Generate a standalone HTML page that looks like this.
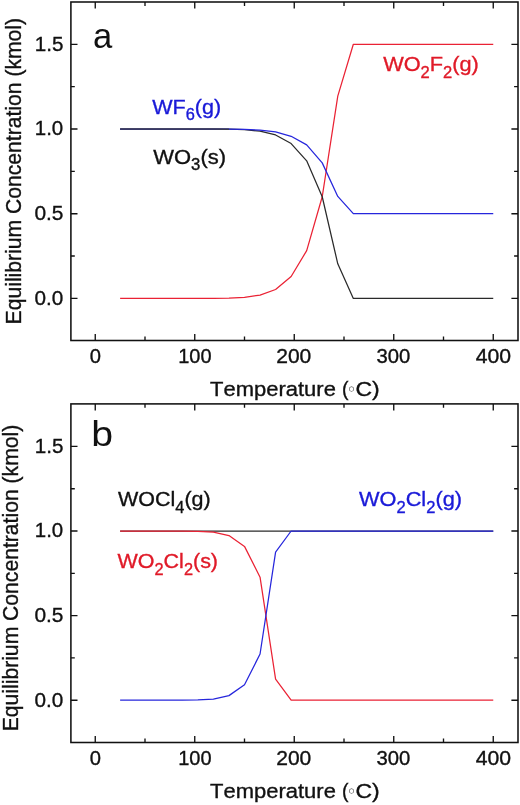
<!DOCTYPE html>
<html lang="en"><head><meta charset="utf-8"><title>Equilibrium Concentration vs Temperature</title>
<style>
html,body{margin:0;padding:0;background:#fff}
body{width:520px;height:805px;overflow:hidden}
svg{display:block}
text{font-family:"Liberation Sans",sans-serif;font-kerning:none}
</style></head><body>
<svg width="520" height="805" viewBox="0 0 520 805">
<rect width="520" height="805" fill="#fff"/>
<rect x="70.90" y="2.00" width="447.10" height="338.50" fill="none" stroke="#111" stroke-width="1.55"/>
<path d="M95.25 340.50v-6.60M95.25 2.00v6.60M145.00 340.50v-3.90M145.00 2.00v3.90M194.75 340.50v-6.60M194.75 2.00v6.60M244.50 340.50v-3.90M244.50 2.00v3.90M294.25 340.50v-6.60M294.25 2.00v6.60M344.00 340.50v-3.90M344.00 2.00v3.90M393.75 340.50v-6.60M393.75 2.00v6.60M443.50 340.50v-3.90M443.50 2.00v3.90M493.25 340.50v-6.60M493.25 2.00v6.60M70.90 298.40h6.60M518.00 298.40h-6.60M70.90 256.05h3.90M518.00 256.05h-3.90M70.90 213.70h6.60M518.00 213.70h-6.60M70.90 171.35h3.90M518.00 171.35h-3.90M70.90 129.00h6.60M518.00 129.00h-6.60M70.90 86.65h3.90M518.00 86.65h-3.90M70.90 44.30h6.60M518.00 44.30h-6.60" stroke="#111" stroke-width="1.35" fill="none"/>
<rect x="70.90" y="403.90" width="447.10" height="338.60" fill="none" stroke="#111" stroke-width="1.55"/>
<path d="M95.25 742.50v-6.60M95.25 403.90v6.60M145.00 742.50v-3.90M145.00 403.90v3.90M194.75 742.50v-6.60M194.75 403.90v6.60M244.50 742.50v-3.90M244.50 403.90v3.90M294.25 742.50v-6.60M294.25 403.90v6.60M344.00 742.50v-3.90M344.00 403.90v3.90M393.75 742.50v-6.60M393.75 403.90v6.60M443.50 742.50v-3.90M443.50 403.90v3.90M493.25 742.50v-6.60M493.25 403.90v6.60M70.90 700.20h6.60M518.00 700.20h-6.60M70.90 657.90h3.90M518.00 657.90h-3.90M70.90 615.60h6.60M518.00 615.60h-6.60M70.90 573.30h3.90M518.00 573.30h-3.90M70.90 531.00h6.60M518.00 531.00h-6.60M70.90 488.70h3.90M518.00 488.70h-3.90M70.90 446.40h6.60M518.00 446.40h-6.60" stroke="#111" stroke-width="1.35" fill="none"/>
<polyline points="120.12,298.40 135.67,298.40 151.22,298.40 166.77,298.40 182.31,298.40 197.86,298.40 213.41,298.40 228.95,298.15 244.50,297.38 260.05,295.10 275.59,289.51 291.14,276.55 306.69,250.63 322.23,196.76 337.78,96.14 353.33,44.30 368.88,44.30 384.42,44.30 399.97,44.30 415.52,44.30 431.06,44.30 446.61,44.30 462.16,44.30 477.70,44.30 493.25,44.30" fill="none" stroke="#ea2234" stroke-width="1.25" stroke-linejoin="round"/>
<polyline points="120.12,129.00 135.67,129.00 151.22,129.00 166.77,129.00 182.31,129.00 197.86,129.00 213.41,129.00 228.95,129.17 244.50,129.68 260.05,131.20 275.59,134.93 291.14,143.57 306.69,160.85 322.23,196.76 337.78,263.84 353.33,298.40 368.88,298.40 384.42,298.40 399.97,298.40 415.52,298.40 431.06,298.40 446.61,298.40 462.16,298.40 477.70,298.40 493.25,298.40" fill="none" stroke="#2a2a2a" stroke-width="1.25" stroke-linejoin="round"/>
<polyline points="120.12,129.00 135.67,129.00 151.22,129.00 166.77,129.00 182.31,129.00 197.86,129.00 213.41,129.00 228.95,129.08 244.50,129.34 260.05,130.10 275.59,131.96 291.14,136.28 306.69,144.92 322.23,162.88 337.78,196.42 353.33,213.70 368.88,213.70 384.42,213.70 399.97,213.70 415.52,213.70 431.06,213.70 446.61,213.70 462.16,213.70 477.70,213.70 493.25,213.70" fill="none" stroke="#2626dc" stroke-width="1.25" stroke-linejoin="round"/>
<polyline points="120.12,129.00 135.67,129.00 151.22,129.00 166.77,129.00 182.31,129.00 197.86,129.00 213.41,129.00 228.95,129.17" fill="none" stroke="#3c3c4c" stroke-width="1.5" stroke-linejoin="round"/>
<polyline points="120.12,531.00 135.67,531.00 151.22,531.00 166.77,531.00 182.31,531.00 197.86,531.00 213.41,531.00 228.95,531.00 244.50,531.00 260.05,531.00 275.59,531.00 291.14,531.00 306.69,531.00 322.23,531.00 337.78,531.00 353.33,531.00 368.88,531.00 384.42,531.00 399.97,531.00 415.52,531.00 431.06,531.00 446.61,531.00 462.16,531.00 477.70,531.00 493.25,531.00" fill="none" stroke="#2a2a2a" stroke-width="1.25" stroke-linejoin="round"/>
<polyline points="120.12,531.00 135.67,531.00 151.22,531.00 166.77,531.00 182.31,531.00 197.86,531.34 213.41,532.18 228.95,535.57 244.50,546.40 260.05,577.19 275.59,679.05 291.14,700.20 306.69,700.20 322.23,700.20 337.78,700.20 353.33,700.20 368.88,700.20 384.42,700.20 399.97,700.20 415.52,700.20 431.06,700.20 446.61,700.20 462.16,700.20 477.70,700.20 493.25,700.20" fill="none" stroke="#ea2234" stroke-width="1.25" stroke-linejoin="round"/>
<polyline points="120.12,700.20 135.67,700.20 151.22,700.20 166.77,700.20 182.31,700.20 197.86,699.86 213.41,699.02 228.95,695.63 244.50,684.80 260.05,654.01 275.59,552.15 291.14,531.00 306.69,531.00 322.23,531.00 337.78,531.00 353.33,531.00 368.88,531.00 384.42,531.00 399.97,531.00 415.52,531.00 431.06,531.00 446.61,531.00 462.16,531.00 477.70,531.00 493.25,531.00" fill="none" stroke="#2626dc" stroke-width="1.25" stroke-linejoin="round"/>
<text transform="translate(92.92,48.20) scale(0.9889,1)" font-size="35" fill="#111" stroke="#111" stroke-width="0">a</text>
<text transform="translate(91.34,446.10) scale(1.1143,1)" font-size="35.2" fill="#111" stroke="#111" stroke-width="0">b</text>
<text transform="translate(152.24,113.50) scale(1.0516,1)" font-size="20.5" fill="#1a1ad8" stroke="#1a1ad8" stroke-width="0.35">WF<tspan dy="6.8" font-size="15.6">6</tspan><tspan dy="-6.8">(g)</tspan></text>
<text transform="translate(153.23,163.50) scale(1.0732,1)" font-size="20.5" fill="#111" stroke="#111" stroke-width="0.35">WO<tspan dy="6.8" font-size="15.6">3</tspan><tspan dy="-6.8">(s)</tspan></text>
<text transform="translate(383.23,70.80) scale(1.0603,1)" font-size="20.5" fill="#e01a28" stroke="#e01a28" stroke-width="0.35">WO<tspan dy="6.8" font-size="15.6">2</tspan><tspan dy="-6.8">F</tspan><tspan dy="6.8" font-size="15.6">2</tspan><tspan dy="-6.8">(g)</tspan></text>
<text transform="translate(118.04,505.75) scale(1.0490,1)" font-size="20.5" fill="#111" stroke="#111" stroke-width="0.35">WOCl<tspan dy="6.8" font-size="15.6">4</tspan><tspan dy="-6.8">(g)</tspan></text>
<text transform="translate(359.03,505.75) scale(1.0607,1)" font-size="20.5" fill="#1a1ad8" stroke="#1a1ad8" stroke-width="0.35">WO<tspan dy="6.8" font-size="15.6">2</tspan><tspan dy="-6.8">Cl</tspan><tspan dy="6.8" font-size="15.6">2</tspan><tspan dy="-6.8">(g)</tspan></text>
<text transform="translate(117.54,568.00) scale(1.0476,1)" font-size="20.5" fill="#e01a28" stroke="#e01a28" stroke-width="0.35">WO<tspan dy="6.8" font-size="15.6">2</tspan><tspan dy="-6.8">Cl</tspan><tspan dy="6.8" font-size="15.6">2</tspan><tspan dy="-6.8">(s)</tspan></text>
<text transform="translate(89.85,363.30) scale(1.0051,1)" font-size="20.1" fill="#111" stroke="#111" stroke-width="0.35">0</text>
<text transform="translate(178.21,363.30) scale(0.9952,1)" font-size="20.1" fill="#111" stroke="#111" stroke-width="0.35">100</text>
<text transform="translate(276.25,363.30) scale(1.0457,1)" font-size="20.1" fill="#111" stroke="#111" stroke-width="0.35">200</text>
<text transform="translate(376.54,363.30) scale(1.0094,1)" font-size="20.1" fill="#111" stroke="#111" stroke-width="0.35">300</text>
<text transform="translate(475.67,363.30) scale(1.0543,1)" font-size="20.1" fill="#111" stroke="#111" stroke-width="0.35">400</text>
<text transform="translate(34.43,304.70) scale(1.0206,1)" font-size="20.3" fill="#111" stroke="#111" stroke-width="0.35">0.0</text>
<text transform="translate(34.43,220.00) scale(1.0302,1)" font-size="20.3" fill="#111" stroke="#111" stroke-width="0.35">0.5</text>
<text transform="translate(34.79,135.30) scale(1.0077,1)" font-size="20.3" fill="#111" stroke="#111" stroke-width="0.35">1.0</text>
<text transform="translate(34.77,50.60) scale(1.0175,1)" font-size="20.3" fill="#111" stroke="#111" stroke-width="0.35">1.5</text>
<text transform="translate(210.06,396.00) scale(1.0724,1)" font-size="20.5" fill="#111" stroke="#111" stroke-width="0.35">Temperature</text>
<text transform="translate(341.91,396.00) scale(0.9524,1)" font-size="20.5" fill="#111" stroke="#111" stroke-width="0.35">(</text>
<text transform="translate(355.38,396.00) scale(1.1221,1)" font-size="20.5" fill="#111" stroke="#111" stroke-width="0.35">C)</text>
<text transform="translate(346.53,394.70) scale(1.0667,1)" font-size="16" style="font-family:DejaVu Sans, sans-serif" fill="#222" stroke="#222" stroke-width="0">◦</text>
<text transform="translate(20.85,324.40) rotate(-90) scale(0.9696,1.03)" font-size="21.8" fill="#111" stroke="#111" stroke-width="0.35">Equilibrium Concentration (kmol)</text>
<text transform="translate(89.85,765.30) scale(1.0051,1)" font-size="20.1" fill="#111" stroke="#111" stroke-width="0.35">0</text>
<text transform="translate(178.21,765.30) scale(0.9952,1)" font-size="20.1" fill="#111" stroke="#111" stroke-width="0.35">100</text>
<text transform="translate(276.25,765.30) scale(1.0457,1)" font-size="20.1" fill="#111" stroke="#111" stroke-width="0.35">200</text>
<text transform="translate(376.54,765.30) scale(1.0094,1)" font-size="20.1" fill="#111" stroke="#111" stroke-width="0.35">300</text>
<text transform="translate(475.67,765.30) scale(1.0543,1)" font-size="20.1" fill="#111" stroke="#111" stroke-width="0.35">400</text>
<text transform="translate(34.43,706.50) scale(1.0206,1)" font-size="20.3" fill="#111" stroke="#111" stroke-width="0.35">0.0</text>
<text transform="translate(34.43,621.90) scale(1.0302,1)" font-size="20.3" fill="#111" stroke="#111" stroke-width="0.35">0.5</text>
<text transform="translate(34.79,537.30) scale(1.0077,1)" font-size="20.3" fill="#111" stroke="#111" stroke-width="0.35">1.0</text>
<text transform="translate(34.77,452.70) scale(1.0175,1)" font-size="20.3" fill="#111" stroke="#111" stroke-width="0.35">1.5</text>
<text transform="translate(210.06,798.00) scale(1.0724,1)" font-size="20.5" fill="#111" stroke="#111" stroke-width="0.35">Temperature</text>
<text transform="translate(341.91,798.00) scale(0.9524,1)" font-size="20.5" fill="#111" stroke="#111" stroke-width="0.35">(</text>
<text transform="translate(355.38,798.00) scale(1.1221,1)" font-size="20.5" fill="#111" stroke="#111" stroke-width="0.35">C)</text>
<text transform="translate(346.53,796.70) scale(1.0667,1)" font-size="16" style="font-family:DejaVu Sans, sans-serif" fill="#222" stroke="#222" stroke-width="0">◦</text>
<text transform="translate(17.75,731.30) rotate(-90) scale(0.9700,1.03)" font-size="21.8" fill="#111" stroke="#111" stroke-width="0.35">Equilibrium Concentration (kmol)</text>
</svg>
</body></html>
